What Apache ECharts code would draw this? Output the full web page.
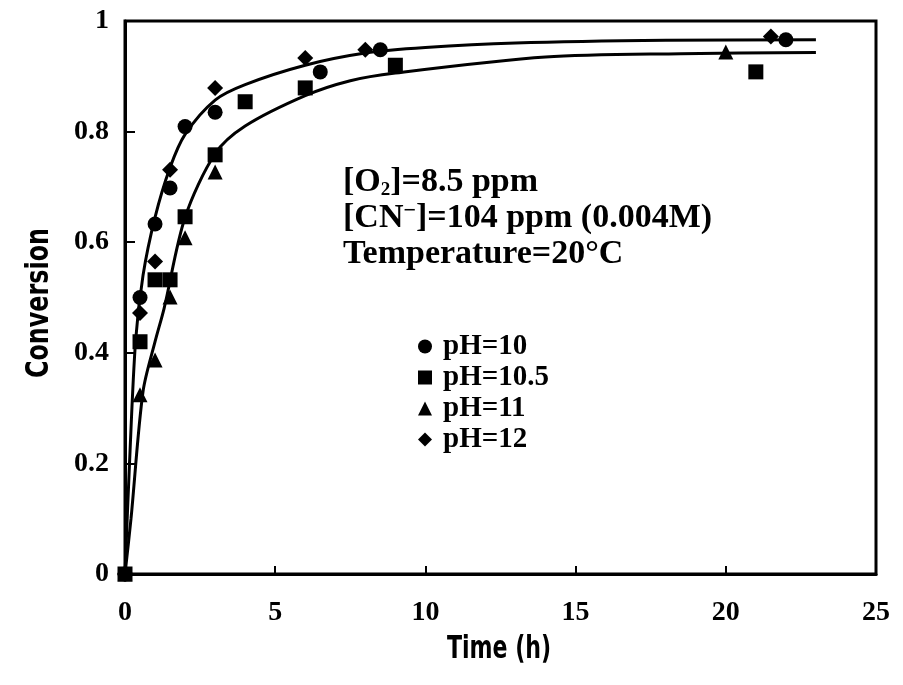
<!DOCTYPE html>
<html>
<head>
<meta charset="utf-8">
<script src="https://cdn.jsdelivr.net/npm/echarts@6/dist/echarts.min.js"></script>
<style>
html,body{margin:0;padding:0;background:#fff;}
#chart{width:903px;height:685px;}
</style>
</head>
<body>
<div id="chart"></div>
<script>
// ---- data ----
const seriesNames = ['pH=10', 'pH=10.5', 'pH=11', 'pH=12'];
const seriesSymbols = ['circle', 'rect', 'triangle', 'diamond'];
const ph10  = [[0,0],[0.5,0.50],[1,0.633],[1.5,0.698],[2,0.809],[3,0.835],[6.5,0.908],[8.5,0.948],[22,0.966]];
const ph105 = [[0,0],[0.5,0.42],[1,0.532],[1.5,0.532],[2,0.646],[3,0.758],[4,0.854],[6,0.879],[9,0.92],[21,0.908]];
const ph11  = [[0,0],[0.5,0.324],[1,0.387],[1.5,0.501],[2,0.608],[3,0.727],[20,0.944]];
const ph12  = [[0,0],[0.5,0.472],[1,0.565],[1.5,0.731],[3,0.879],[6,0.933],[8,0.948],[21.5,0.972]];
// fitted curves
const fitUpper = [[0,0],[0.15,0.2],[0.35,0.42],[0.6,0.54],[1,0.645],[1.5,0.735],[2,0.795],[3,0.857],[4,0.885],[6,0.92],[8,0.942],[10,0.952],[13,0.96],[18,0.965],[23,0.966]];
const fitLower = [[0,0],[0.2,0.1],[0.6,0.33],[1,0.42],[1.3,0.48],[2,0.645],[3,0.76],[4,0.81],[6,0.865],[7.5,0.892],[9,0.906],[14,0.935],[18.5,0.941],[23,0.943]];
const xTicks = [0, 5, 10, 15, 20, 25];
const yTicks = [0, 0.2, 0.4, 0.6, 0.8, 1];
const xTitle = 'Time (h)';
const yTitle = 'Conversion';
const noteLines = ['[O{sub|2}]=8.5 ppm', '[CN{sup|\u2212}]=104 ppm (0.004M)', 'Temperature=20\u00B0C'];

const pointSets = [ph10, ph105, ph11, ph12];
const symbolSizes = [15, 15, 15, 16];

const chart = echarts.init(document.getElementById('chart'), null, {renderer: 'canvas'});

const serif = '"Liberation Serif", "Times New Roman", serif';
const titleFont = 'bold 32px "DejaVu Sans", "Liberation Sans", sans-serif';

const series = [
  {type: 'line', data: fitUpper, smooth: 0.3, showSymbol: false, symbol: 'none', z: 1,
   lineStyle: {color: '#000', width: 3}, silent: true},
  {type: 'line', data: fitLower, smooth: 0.3, showSymbol: false, symbol: 'none', z: 1,
   lineStyle: {color: '#000', width: 3}, silent: true}
];
pointSets.forEach((d, i) => {
  series.push({
    name: seriesNames[i], type: 'scatter', data: d,
    symbol: seriesSymbols[i], symbolSize: symbolSizes[i],
    itemStyle: {color: '#000', opacity: 1}, clip: false,
    z: i === 1 ? 5 : 3
  });
});

chart.setOption({
  animation: false,
  backgroundColor: '#fff',
  grid: {left: 125, right: 27, top: 21, bottom: 111, show: true, borderColor: '#000', borderWidth: 3, containLabel: false},
  xAxis: {
    type: 'value', min: xTicks[0], max: xTicks[xTicks.length - 1], interval: 5,
    axisLine: {lineStyle: {color: '#000', width: 3}},
    axisTick: {inside: true, length: 8, lineStyle: {color: '#000', width: 2}},
    axisLabel: {margin: 25, fontFamily: serif, fontWeight: 'bold', fontSize: 28, color: '#000'},
    splitLine: {show: false}
  },
  yAxis: {
    type: 'value', min: yTicks[0], max: yTicks[yTicks.length - 1], interval: 0.2,
    axisLine: {lineStyle: {color: '#000', width: 3}},
    axisTick: {inside: true, length: 10, lineStyle: {color: '#000', width: 2}},
    axisLabel: {margin: 16, fontFamily: serif, fontWeight: 'bold', fontSize: 28, color: '#000'},
    splitLine: {show: false}
  },
  legend: {
    orient: 'vertical', left: 413, top: 326,
    itemWidth: 14, itemHeight: 14, itemGap: 0,
    data: seriesNames.map((n, i) => ({name: n, icon: seriesSymbols[i]})),
    itemStyle: {opacity: 1},
    textStyle: {fontFamily: serif, fontWeight: 'bold', fontSize: 29, color: '#000', lineHeight: 31, padding: [0, 0, 0, 6]},
    selectedMode: false
  },
  graphic: [
    {
      type: 'text', left: 343, top: 164, silent: true,
      style: {
        text: noteLines.join('\n'),
        fill: '#000',
        font: 'bold 34px "Liberation Serif", serif',
        lineHeight: 36,
        rich: {
          sub: {fontSize: 19, fontWeight: 'bold', fontFamily: serif, lineHeight: 18, verticalAlign: 'bottom'},
          sup: {fontSize: 22, fontWeight: 'bold', fontFamily: serif, lineHeight: 18, verticalAlign: 'top'}
        }
      }
    },
    {
      type: 'text', x: 499, y: 650, scaleX: 0.69, silent: true,
      style: {text: xTitle, font: titleFont, fill: '#000', align: 'center', verticalAlign: 'middle'}
    },
    {
      type: 'text', x: 40, y: 303, rotation: Math.PI / 2, scaleX: 0.745, silent: true,
      style: {text: yTitle, font: titleFont, fill: '#000', align: 'center', verticalAlign: 'middle'}
    }
  ],
  series: series
});
</script>
</body>
</html>
